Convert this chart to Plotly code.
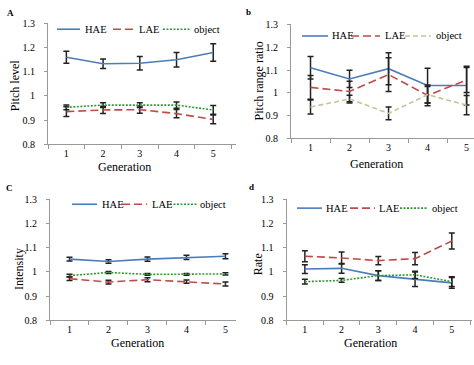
import plotly.graph_objects as go

generations = ["1", "2", "3", "4", "5"]
series_names = ["HAE", "LAE", "object"]

# Panel A: Pitch level
a_hae = [1.160, 1.133, 1.135, 1.150, 1.180]
a_hae_err = [0.025, 0.020, 0.028, 0.030, 0.036]
a_lae = [0.935, 0.942, 0.943, 0.927, 0.903]
a_lae_err = [0.020, 0.015, 0.015, 0.017, 0.018]
a_obj = [0.953, 0.962, 0.962, 0.962, 0.942]
a_obj_err = [0.010, 0.010, 0.010, 0.013, 0.018]

# Panel b: Pitch range ratio
b_hae = [1.110, 1.061, 1.106, 1.032, 1.032]
b_hae_err = [0.049, 0.038, 0.070, 0.076, 0.085]
b_lae = [1.024, 1.006, 1.080, 0.989, 1.056]
b_lae_err = [0.052, 0.045, 0.074, 0.045, 0.055]
b_obj = [0.938, 0.973, 0.910, 0.992, 0.946]
b_obj_err = [0.031, 0.017, 0.028, 0.036, 0.042]

# Panel C: Intensity
c_hae = [1.053, 1.043, 1.053, 1.060, 1.065]
c_hae_err = [0.008, 0.007, 0.009, 0.009, 0.010]
c_lae = [0.972, 0.958, 0.968, 0.960, 0.950]
c_lae_err = [0.007, 0.008, 0.008, 0.007, 0.008]
c_obj = [0.985, 0.998, 0.990, 0.990, 0.992]
c_obj_err = [0.005, 0.004, 0.004, 0.004, 0.005]

# Panel d: Rate
d_hae = [1.012, 1.015, 0.985, 0.970, 0.955]
d_hae_err = [0.018, 0.020, 0.020, 0.030, 0.022]
d_lae = [1.065, 1.058, 1.047, 1.055, 1.128]
d_lae_err = [0.023, 0.025, 0.017, 0.025, 0.033]
d_obj = [0.960, 0.965, 0.985, 0.988, 0.960]
d_obj_err = [0.010, 0.008, 0.020, 0.015, 0.020]

y_ticks = [0.8, 0.9, 1.0, 1.1, 1.2, 1.3]
y_tick_text = ["0.8", "0.9", "1", "1.1", "1.2", "1.3"]

W, H = 474, 365
FONT = "Liberation Serif"
BLUE = "#4A7EBB"
RED = "#BE4B48"
GREEN = "#2E9A2E"
OLIVE = "#C9C29A"
DOT = "2px,1.5px"

panels = [
    dict(vals=[(a_hae, a_hae_err), (a_lae, a_lae_err), (a_obj, a_obj_err)],
         xd=(48, 236), yd=(18, 143), xr=4.62, obj_col=GREEN, obj_dash=DOT,
         leg_y=24, leg=[(57, 80, 83), (113, 134, 137), (163, 190, 192)],
         letter="A", lpos=(10, 7), ytitle="Pitch level",
         ytp=(15, 82), xtp=(124, 166)),
    dict(vals=[(b_hae, b_hae_err), (b_lae, b_lae_err), (b_obj, b_obj_err)],
         xd=(291, 474), yd=(19, 137), xr=4.19, obj_col=OLIVE, obj_dash="5px,3px",
         leg_y=31, leg=[(302, 328, 330), (351, 380, 383), (405, 431, 434)],
         letter="b", lpos=(248, 6), ytitle="Pitch range ratio",
         ytp=(259, 78), xtp=(376, 163)),
    dict(vals=[(c_hae, c_hae_err), (c_lae, c_lae_err), (c_obj, c_obj_err)],
         xd=(50, 236), yd=(200, 325), xr=4.27, obj_col=GREEN, obj_dash=DOT,
         leg_y=205, leg=[(72, 97, 100), (122, 147, 150), (170, 197, 198)],
         letter="C", lpos=(9, 188), ytitle="Intensity",
         ytp=(19, 272), xtp=(137, 348)),
    dict(vals=[(d_hae, d_hae_err), (d_lae, d_lae_err), (d_obj, d_obj_err)],
         xd=(286.5, 472), yd=(200, 325), xr=4.55, obj_col=GREEN, obj_dash=DOT,
         leg_y=209, leg=[(297, 322, 324), (350, 375, 377), (400, 427, 430)],
         letter="d", lpos=(251, 187), ytitle="Rate",
         ytp=(258, 267), xtp=(370, 348)),
]

fig = go.Figure()
layout = dict(
    width=W, height=H, margin=dict(l=0, r=0, t=0, b=0),
    paper_bgcolor="white", plot_bgcolor="white",
    font=dict(family=FONT, size=10, color="black"),
    showlegend=False, annotations=[], shapes=[],
)


def paper_text(text, px, py, size, anchor="center", angle=0):
    return dict(text=text, x=px / W, y=1 - py / H, xref="paper", yref="paper",
                xanchor=anchor, yanchor="middle", showarrow=False,
                textangle=angle, font=dict(family=FONT, size=size))


for i, p in enumerate(panels):
    n = "" if i == 0 else str(i + 1)
    xa, ya = "x" + n, "y" + n
    styles = [
        dict(color=BLUE, width=1.6, dash="solid"),
        dict(color=RED, width=1.6, dash="8px,4px"),
        dict(color=p["obj_col"], width=1.6, dash=p["obj_dash"]),
    ]
    for (vals, errs), name, st in zip(p["vals"], series_names, styles):
        fig.add_trace(go.Scatter(
            x=generations, y=vals, name=name, mode="lines",
            line=st, xaxis=xa, yaxis=ya,
            error_y=dict(type="data", array=errs, visible=True,
                         color="#222222", thickness=1.5, width=3),
        ))
    x0, x1 = p["xd"]
    y0, y1 = p["yd"]
    layout["xaxis" + n] = dict(
        domain=[x0 / W, min(x1 / W, 1.0)], anchor=ya, type="category",
        range=[-0.5, p["xr"]], tickson="boundaries", ticks="outside",
        ticklen=4, tickcolor="#999999", showline=True, linecolor="#999999",
        linewidth=1, showgrid=False, zeroline=False,
        tickfont=dict(family=FONT, size=10), fixedrange=True,
    )
    layout["yaxis" + n] = dict(
        domain=[1 - y1 / H, 1 - y0 / H], anchor=xa, range=[0.8, 1.3],
        tickvals=y_ticks, ticktext=y_tick_text, ticks="outside", ticklen=3,
        tickcolor="#999999", showline=True, linecolor="#999999", linewidth=1,
        showgrid=False, zeroline=False, tickfont=dict(family=FONT, size=10),
        ticklabelstandoff=7,
    )
    # hand-placed legend (line sample + label) for this panel
    ly = 1 - p["leg_y"] / H
    for (lx0, lx1, tx), name, st in zip(p["leg"], series_names, styles):
        layout["shapes"].append(dict(
            type="line", xref="paper", yref="paper",
            x0=lx0 / W, x1=lx1 / W, y0=ly, y1=ly, line=st))
        layout["annotations"].append(
            paper_text(name, tx, p["leg_y"], 10.5, anchor="left"))
    ann = layout["annotations"]
    ann.append(paper_text("<b>" + p["letter"] + "</b>", *p["lpos"], 9))
    ann.append(paper_text(p["ytitle"], *p["ytp"], 12, angle=-90))
    ann.append(paper_text("Generation", *p["xtp"], 12))

fig.update_layout(**layout)
fig.write_html("out.html",
               config={"displayModeBar": False},
               post_script="document.body.style.margin='0px';"
                           "document.documentElement.style.overflow='hidden';")
